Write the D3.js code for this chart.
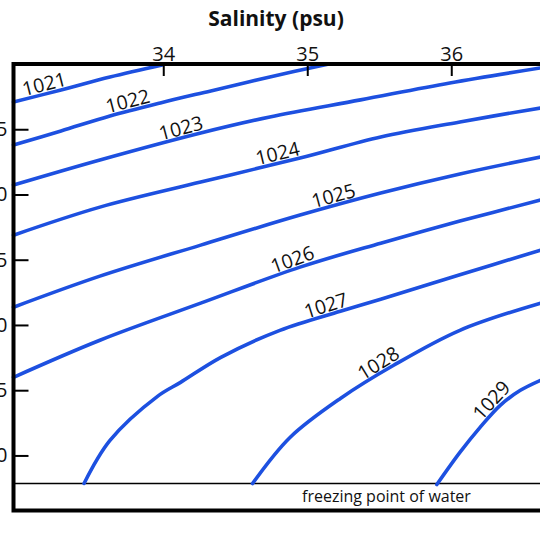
<!DOCTYPE html>
<html>
<head>
<meta charset="utf-8">
<script src="https://cdn.jsdelivr.net/npm/d3@7"></script>
<style>
  html, body { margin: 0; padding: 0; background: #fff; }
  svg { display: block; font-family: "Open Sans", "DejaVu Sans", sans-serif; }
</style>
</head>
<body>
<svg id="chart" width="540" height="540"></svg>
<script>
// ---------- data (salinity psu, temperature °C) ----------
const salinityTicks = [34, 35, 36];
const temperatureTicks = [0, 5, 10, 15, 20, 25];
const densityLevels = [1021, 1022, 1023, 1024, 1025, 1026, 1027, 1028, 1029];
const freezingPoint = -2.15;
const freezingLabel = "freezing point of water";
const xTitle = "Salinity (psu)";

const iso1021 = [[32.96, 27.09], [33.29, 28.01], [33.63, 29.01], [34.0, 29.95]];
const iso1022 = [[32.96, 23.79], [33.29, 24.87], [33.63, 26.02], [33.98, 27.02], [34.33, 27.94], [34.74, 29.01], [35.15, 30.0]];
const iso1023 = [[32.96, 20.72], [33.56, 22.64], [34.26, 24.71], [34.74, 25.94], [35.37, 27.25], [35.99, 28.55], [36.62, 29.70]];
const iso1024 = [[32.96, 16.88], [33.56, 19.03], [34.26, 20.95], [34.95, 22.79], [35.51, 24.41], [36.06, 25.56], [36.62, 26.63]];
const iso1025 = [[32.96, 11.36], [33.56, 13.74], [34.26, 16.12], [34.95, 18.42], [35.51, 20.11], [36.06, 21.57], [36.62, 22.87]];
const iso1026 = [[32.96, 5.99], [33.56, 8.83], [34.26, 11.67], [34.95, 14.43], [35.51, 16.27], [36.06, 17.96], [36.62, 19.57]];
const iso1027 = [[33.45, -2.15], [33.63, 1.15], [33.96, 4.53], [34.12, 5.60], [34.40, 7.52], [34.81, 9.59], [35.23, 11.05], [35.51, 11.97], [36.06, 13.85], [36.62, 15.73]];
const iso1028 = [[34.62, -2.15], [34.88, 1.38], [35.23, 4.37], [35.60, 6.91], [36.06, 9.59], [36.62, 11.67]];
const iso1029 = [[35.90, -2.23], [36.06, 0.23], [36.20, 2.15], [36.34, 3.84], [36.48, 4.99], [36.62, 5.76]];
const isopycnals = [iso1021, iso1022, iso1023, iso1024, iso1025, iso1026, iso1027, iso1028, iso1029];

// ---------- layout ----------
const svg = d3.select("#chart");
const x = d3.scaleLinear().domain([32.96, 37]).range([13.5, 13.5 + 4.04 * 144]);
const y = d3.scaleLinear().domain([-4.22, 30]).range([510.5, 64]);
const blue = "#1d50e0";
const labelAt = [33.19, 33.77, 34.14, 34.81, 35.20, 34.92, 35.15, 35.53, 36.33];

const line = d3.line().x(d => x(d[0])).y(d => y(d[1])).curve(d3.curveCatmullRom.alpha(0.5));

// freezing line
svg.append("line")
  .attr("x1", x(32.96)).attr("x2", x(37))
  .attr("y1", y(freezingPoint)).attr("y2", y(freezingPoint))
  .attr("stroke", "#000").attr("stroke-width", 1.6);
svg.append("text")
  .attr("x", 302).attr("y", 501.5)
  .attr("font-size", 16).attr("fill", "#111")
  .text(freezingLabel);

// isopycnal lines
svg.append("g").selectAll("path").data(isopycnals).join("path")
  .attr("d", line)
  .attr("fill", "none").attr("stroke", blue)
  .attr("stroke-width", 3.6).attr("stroke-linecap", "round").attr("stroke-linejoin", "round");

// labels along lines
isopycnals.forEach((pts, i) => {
  const px = pts.map(p => [x(p[0]), y(p[1])]);
  const X = x(labelAt[i]);
  let k = 0;
  while (k < px.length - 2 && px[k + 1][0] < X) k++;
  const a = px[k], b = px[k + 1];
  const t = (X - a[0]) / (b[0] - a[0]);
  const Y = a[1] + t * (b[1] - a[1]);
  const ang = Math.atan2(b[1] - a[1], b[0] - a[0]) * 180 / Math.PI;
  svg.append("text")
    .attr("transform", `translate(${X},${Y}) rotate(${ang})`)
    .attr("text-anchor", "middle")
    .attr("dy", -3)
    .attr("font-size", 19.5)
    .attr("fill", "#111")
    .text(densityLevels[i]);
});

// axes
const topAxis = d3.axisTop(x).tickValues(salinityTicks).tickSize(-12).tickPadding(3).tickFormat(d3.format("d"));
const gTop = svg.append("g").attr("transform", `translate(0,${y(30)})`).call(topAxis);
const leftAxis = d3.axisLeft(y).tickValues(temperatureTicks).tickSize(-15).tickPadding(6).tickFormat(d3.format("d"));
const gLeft = svg.append("g").attr("transform", `translate(${x(32.96)},0)`).call(leftAxis);
[gTop, gLeft].forEach(g => {
  g.select(".domain").remove();
  g.selectAll(".tick line").attr("stroke", "#000").attr("stroke-width", 2);
  g.selectAll(".tick text").attr("font-size", 20).attr("fill", "#111")
    .attr("font-family", "'Open Sans', sans-serif");
});

// frame
svg.append("rect")
  .attr("x", x(32.96)).attr("y", y(30))
  .attr("width", x(37) - x(32.96)).attr("height", y(-4.22) - y(30))
  .attr("fill", "none").attr("stroke", "#000").attr("stroke-width", 4);

// title
svg.append("text")
  .attr("x", 276).attr("y", 26)
  .attr("text-anchor", "middle")
  .attr("font-size", 21).attr("font-weight", "bold").attr("fill", "#111")
  .text(xTitle);
</script>
</body>
</html>
